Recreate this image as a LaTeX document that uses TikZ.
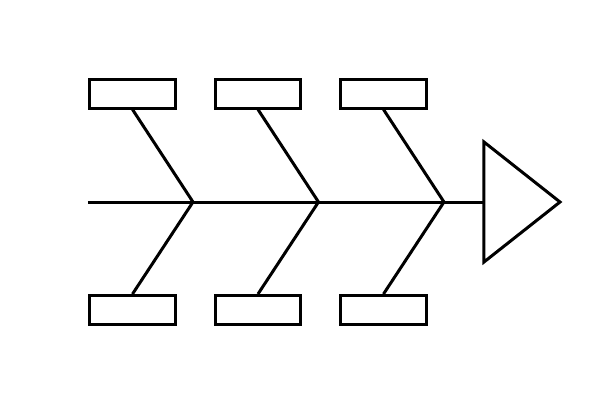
\documentclass[tikz,border=0pt]{standalone}
\usepackage{tikz}

\begin{document}
\begin{tikzpicture}[x = 0.02cm, y = -0.02cm, line width = 0.06cm,
        cause/.style = {draw, minimum width = 1.72cm, minimum height = 0.58cm, inner sep = 0pt}]
        \useasboundingbox (0,0) rectangle (600,420);

        \node [cause] (T1) at (132.5,93.5) {};
        \node [cause] (T2) at (258,93.5) {};
        \node [cause] (T3) at (383.5,93.5) {};
        \node [cause] (B1) at (132.5,310) {};
        \node [cause] (B2) at (258,310) {};
        \node [cause] (B3) at (383.5,310) {};

        \coordinate (S) at (88,202);
        \coordinate (J1) at (193,202);
        \coordinate (J2) at (318.5,202);
        \coordinate (J3) at (444,202);
        \coordinate (H1) at (484,142);
        \coordinate (H2) at (560,202);
        \coordinate (H3) at (484,262);
        \coordinate (H) at (484,202);

        % spine and head
        \draw (S)--(H);
        \draw (H1)--(H2)--(H3)--cycle;

        % bones
        \draw (T1.south)--(J1)--(B1.north);
        \draw (T2.south)--(J2)--(B2.north);
        \draw (T3.south)--(J3)--(B3.north);
    \end{tikzpicture}
\end{document}
